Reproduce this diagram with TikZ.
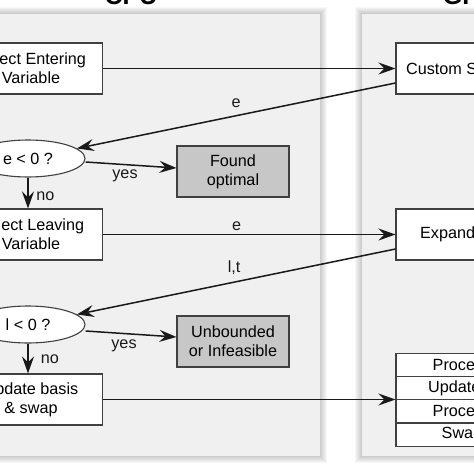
\documentclass[tikz,border=0pt]{standalone}
\usepackage{fontspec}
\setmainfont{Liberation Sans}
\usetikzlibrary{arrows.meta,shapes.geometric}

\begin{document}
\begin{tikzpicture}[x=1pt, y=-1pt, font=\fontsize{16.2}{19}\selectfont,
    >={Stealth[length=17pt,width=12pt,inset=6pt]}]
    \tikzstyle{box}=[draw=black!75, line width=1.1pt, fill=white, align=center, minimum height=51pt, inner sep=2pt]
    \tikzstyle{lbox}=[box, minimum width=143pt]
    \tikzstyle{rbox}=[box, minimum width=132pt]
    \tikzstyle{done}=[box, fill=black!22, minimum width=112pt]
    \tikzstyle{test}=[ellipse, draw=black!75, line width=1.1pt, fill=white, minimum width=114pt, minimum height=37pt, inner sep=0pt]
    \tikzstyle{cell}=[draw=black!75, line width=1.1pt, fill=white, minimum width=132pt, minimum height=23.3pt, inner sep=0pt]
    \tikzstyle{flow}=[->, line width=1.5pt, black!90]
    \tikzstyle{lbl}=[inner sep=0pt, anchor=base]
    \tikzstyle{title}=[font=\bfseries\fontsize{25}{30}\selectfont, anchor=base]
    \tikzstyle{panel}=[fill=black!6]

    \useasboundingbox (0,0) rectangle (474,474);
    % panels
    \foreach \d in {1,...,7} {
      \fill[black, opacity=.03] (-30-\d,14-\d) rectangle (320+\d,456+\d);
      \fill[black, opacity=.03] (362-\d,14-\d) rectangle (520+\d,456+\d);
    }
    \fill[panel] (-30,14) rectangle (320,456);
    \fill[panel] (362,14) rectangle (520,456);
    \node[title] (cpu) at (131,4.5) {CPU};
    \node[title] (gpu) at (470,4.5) {GPU};

    % CPU side
    \node[lbox] (selent) at (31,68.5) {Select Entering\\Variable};
    \node[test] (etest) at (28,158.5) {e < 0 ?};
    \node[done] (found) at (233,171.5) {Found\\optimal};
    \node[lbox] (selleave) at (31,234.5) {Select Leaving\\Variable};
    \node[test] (ltest) at (28,324.5) {l < 0 ?};
    \node[done] (unbnd) at (233,341.5) {Unbounded\\or Infeasible};
    \node[lbox] (update) at (31,399.5) {Update basis\\\& swap};

    % GPU side
    \node[rbox] (search) at (462,68.5) {Custom Search};
    \node[rbox] (expand) at (462,234.5) {Expand Col};
    \node[cell] (proc1) at (462,364.7) {Process};
    \node[cell] (upd) at (462,388) {Update B};
    \node[cell] (proc2) at (462,411.3) {Process};
    \node[cell] (swap) at (462,434.6) {Swap};

    \draw[flow] (selent) -- (search);
    \draw[flow] ([yshift=-14.5pt]search.west) -- node[lbl, yshift=7.8pt] {e} (etest);
    \draw[flow] (etest.south) -- node[lbl, anchor=base west, xshift=7.5pt, yshift=-7pt] {no} (etest.south |- selleave.north);
    \draw[flow] ([yshift=-3.5pt]etest.east) -- node[lbl, xshift=-6pt, yshift=-13pt] {yes} ([yshift=3.5pt]found.west);
    \draw[flow] (selleave) -- node[lbl, xshift=-12.5pt, yshift=4.5pt] {e} (expand);
    \draw[flow] ([yshift=-14.5pt]expand.west) -- node[lbl, xshift=-2pt, yshift=8.8pt] {l,t} (ltest);
    \draw[flow] ([yshift=-6.5pt]ltest.east) -- node[lbl, xshift=-7pt, yshift=-14pt] {yes} ([yshift=4.5pt]unbnd.west);
    \draw[flow] (ltest.south) -- node[lbl, anchor=base west, xshift=12pt, yshift=-5pt] {no} (ltest.south |- update.north);
    \draw[flow] (update) -- (update -| upd.south west);
\end{tikzpicture}
\end{document}
